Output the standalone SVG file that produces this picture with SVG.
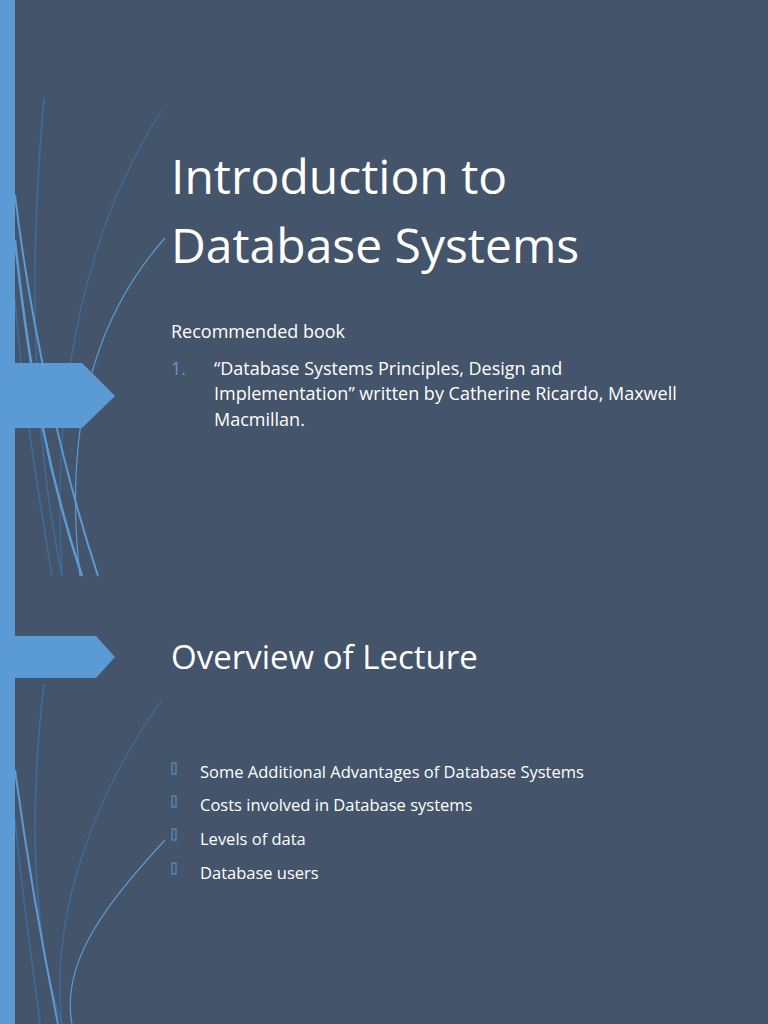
<svg xmlns="http://www.w3.org/2000/svg" width="768" height="1024" viewBox="0 0 768 1024">
<style>
.t{font-family:"Open Sans","Liberation Sans",sans-serif;fill:#fff}
.c{fill:none;stroke:#5B9BD5}
.d{fill:none;stroke:#3E6E9E}
.ac{fill:#5B9BD5}
</style>
<rect width="768" height="1024" fill="#44546A"/>
<g id="slide1-deco">
<path class="d" d="M44 98 C30 250 30 420 62 576" stroke-width="1.5"/>
<path class="d" d="M162 110 C90 220 50 380 62 576" stroke-width="1.2"/>
<path class="c" d="M165 238 C110 300 60 400 80 576" stroke-width="1.2"/>
<path class="c" d="M15 195 C30 320 60 460 98 576" stroke-width="2"/>
<path class="c" d="M15 240 C30 380 50 480 82 576" stroke-width="2.5"/>
<path class="d" d="M15 300 C25 420 40 500 52 576" stroke-width="1.5"/>
<rect class="ac" x="0" y="0" width="15" height="576"/>
<path class="ac" d="M15 363 H82 L115 396 L82 428 H15 Z"/>
</g>
<g id="slide2-deco">
<path class="d" d="M44 684 C30 800 30 930 62 1024" stroke-width="1.5"/>
<path class="d" d="M162 700 C90 800 50 920 62 1024" stroke-width="1.2"/>
<path class="c" d="M165 840 C110 900 60 960 72 1024" stroke-width="1.2"/>
<path class="c" d="M15 770 C30 880 45 960 58 1024" stroke-width="2"/>
<path class="d" d="M15 820 C25 920 35 980 40 1024" stroke-width="1.5"/>
<rect class="ac" x="0" y="576" width="15" height="448"/>
<path class="ac" d="M15 636 H96 L115 657 L96 678 H15 Z"/>
</g>
<g id="title1">
<text class="t" x="171" y="194" font-size="48">Introduction to</text>
<text class="t" x="171" y="263" font-size="48">Database Systems</text>
</g>
<g id="body1" font-size="18">
<text class="t" x="171" y="338">Recommended book</text>
<text x="171" y="375" style="font-family:'Open Sans','Liberation Sans',sans-serif;fill:#5B9BD5">1.</text>
<text class="t" x="214" y="375">“Database Systems Principles, Design and</text>
<text class="t" x="214" y="400">Implementation” written by Catherine Ricardo, Maxwell</text>
<text class="t" x="214" y="426">Macmillan.</text>
</g>
<g id="title2">
<text class="t" x="171" y="669" font-size="33">Overview of Lecture</text>
</g>
<g id="bullets" font-size="16.5">
<g fill="none" stroke="#5B9BD5" stroke-width="1"><rect x="172" y="763" width="4" height="11"/><rect x="172" y="796" width="4" height="11"/><rect x="172" y="829" width="4" height="11"/><rect x="172" y="863" width="4" height="11"/></g>
<text class="t" x="200" y="778">Some Additional Advantages of Database Systems</text>
<text class="t" x="200" y="811">Costs involved in Database systems</text>
<text class="t" x="200" y="845">Levels of data</text>
<text class="t" x="200" y="879">Database users</text>
</g>
</svg>
